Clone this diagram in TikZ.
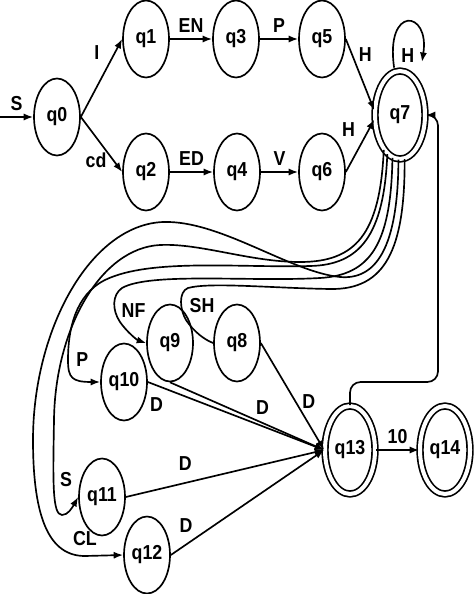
\documentclass[tikz,border=0pt]{standalone}
\usepackage{fontspec}
\setmainfont{Liberation Sans}[FakeStretch=0.88]
\usepackage{tikz}
\usetikzlibrary{arrows.meta,shapes.geometric}

\begin{document}
\begin{tikzpicture}[
  x=0.02cm, y=-0.02cm,
  font=\fontsize{11.5}{13}\selectfont\bfseries,
  st/.style={draw, ellipse, line width=0.95pt, minimum width=0.92cm, minimum height=1.54cm, inner sep=0pt},
  fin/.style={st, double, double distance=2.3pt, minimum width=1.0cm, minimum height=1.76cm},
  arr/.style={-{Latex[length=1.9mm]}, line width=0.95pt}
]
\useasboundingbox (0,0) rectangle (474,594);

\coordinate (start) at (0,117);
\node[st]  at (57,117)  (q0)  {q0};
\node[st]  at (146,39)  (q1)  {q1};
\node[st]  at (236,39)  (q3)  {q3};
\node[st]  at (322,39)  (q5)  {q5};
\node[st]  at (146,172) (q2)  {q2};
\node[st]  at (237,172) (q4)  {q4};
\node[st]  at (322,172) (q6)  {q6};
\node[fin] at (400,115) (q7)  {q7};
\node[st]  at (170,343) (q9)  {q9};
\node[st]  at (237,343) (q8)  {q8};
\node[st]  at (124,382) (q10) {q10};
\node[st]  at (102,497) (q11) {q11};
\node[st]  at (147,555) (q12) {q12};
\node[fin] at (350,450) (q13) {q13};
\node[fin] at (445,450) (q14) {q14};
\coordinate (loopin) at (422,62);

\draw[arr] (start) -- node[above] {S} (q0);
\draw[arr] (q0.east) -- node[pos=0.82, left=5pt] {I} (q1.west);
\draw[arr] (q0.east) -- node[pos=0.78, left] {cd} (q2.west);
\draw[arr] (q1) -- node[above] {EN} (q3);
\draw[arr] (q3) -- node[above] {P} (q5);
\draw[arr] (q2) -- node[above] {ED} (q4);
\draw[arr] (q4) -- node[above] {V} (q6);
\draw[arr] (q5.east) -- node[pos=0.22, right] {H} (q7.170);
\draw[arr] (q6.east) -- node[pos=0.8, left=4pt] {H} (q7.190);
\draw[arr, shorten <=2pt] (q7.97) .. controls (385,5) and (430,10) .. node[pos=0.5, below=0.4cm] {H} (loopin);

% back edges out of q7
\draw[arr] (q7.245) .. controls (380,235) and (355,262) .. (300,262)
  .. controls (250,262) and (200,243) .. (160,245)
  .. controls (100,248) and (55,330) .. (54,420)
  .. controls (53,480) and (52,515) .. node[pos=0.4, right] {S} (62,515)
  .. controls (68,515) and (72,508) .. (q11.west);
\draw[arr] (q7.268) .. controls (398,250) and (375,280) .. (340,277)
  .. controls (290,272) and (220,220) .. (163,222)
  .. controls (90,225) and (33,330) .. (33,440)
  .. controls (33,520) and (50,556) .. (85,556)
  -- node[pos=0, above=2pt] {CL} (q12.west);
\draw[arr] (q7.252) .. controls (384,235) and (360,265) .. (310,266)
  .. controls (240,268) and (150,258) .. (105,280)
  .. controls (75,295) and (68,330) .. (68,360)
  .. controls (68,378) and (72,382) .. node[pos=0.3, above right] {P} (q10.west);
\draw[arr] (q7.260) .. controls (391,245) and (370,275) .. (320,278)
  .. controls (250,282) and (150,272) .. (122,288)
  .. controls (112,295) and (112,310) .. node[pos=0.7, right] {NF} (120,322)
  .. controls (127,332) and (137,340) .. (q9.west);
\draw[line width=0.95pt] (q7.276) .. controls (405,250) and (385,290) .. (330,289)
  .. controls (270,288) and (210,282) .. (188,288)
  .. controls (178,292) and (180,310) .. node[pos=0.6, right=1pt] {SH} (186,320)
  .. controls (194,332) and (205,340) .. (q8.west);

% into q13
\draw[arr] (q10.east) -- node[pos=0.05, below=3pt] {D} (q13.west);
\draw[arr] (q9.south) -- node[pos=0.6, above=1pt] {D} (q13.west);
\draw[arr] (q8.east) -- node[pos=0.55, right] {D} (q13.west);
\draw[arr] (q11.east) -- node[pos=0.3, above=3pt] {D} (q13.west);
\draw[arr] (q12.east) -- node[pos=0.1, above=3pt] {D} (q13.west);
\draw[arr] (q13) -- node[above] {10} (q14);
\draw[arr, rounded corners=6pt] (q13.north) |- (438,382) |- (q7.east);
\end{tikzpicture}
\end{document}
